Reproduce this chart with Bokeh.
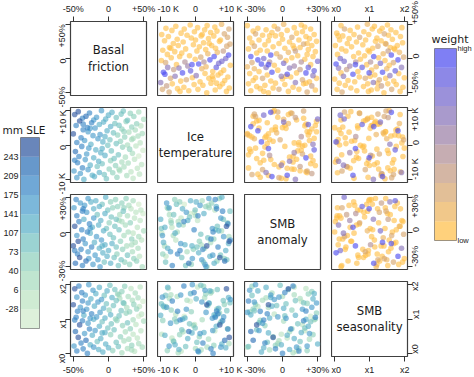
import math
from bokeh.plotting import figure
from bokeh.models import ColumnDataSource, LinearAxis, FixedTicker, Range1d
from bokeh.transform import linear_cmap
from bokeh.layouts import row, column
from bokeh.embed import file_html
from bokeh.resources import INLINE
from bokeh.core.properties import value

# ---------------- data ----------------
friction = [-50,-49,-48,-47,-46,-45,-45,-44,-43,-42,
            -41,-40,-39,-38,-37,-37,-36,-35,-34,-33,
            -32,-31,-30,-29,-29,-28,-27,-26,-25,-24,
            -23,-22,-21,-21,-20,-19,-18,-17,-16,-15,
            -14,-13,-13,-12,-11,-10,-9,-8,-7,-6,
            -5,-5,-4,-3,-2,-1,0,1,2,3,
            3,4,5,6,7,8,9,10,11,11,
            12,13,14,15,16,17,18,19,19,20,
            21,22,23,24,25,26,27,27,28,29,
            30,31,32,33,34,35,35,36,37,38,
            39,40,41,42,43,43,44,45,46,47,
            48,49,50,-48,-26,15,33,-36,-9,22]
temperature = [3.2,-7.5,8.8,-1.9,5.6,-9.4,0.7,-5.1,9.6,-3.3,
               6.9,-8.2,2.1,-0.4,7.7,-6.6,4.4,-9.9,1.3,-4.2,
               8.3,-2.6,5.0,-7.1,3.8,-0.9,9.2,-5.8,0.2,6.4,
               -8.7,2.7,-3.7,7.2,-9.1,4.9,-1.4,8.0,-6.2,1.8,
               -4.7,5.9,-7.9,3.0,-2.2,9.9,-5.4,0.9,6.6,-8.5,
               2.4,-3.0,7.5,-9.7,4.1,-0.1,8.6,-6.9,1.5,-4.5,
               5.3,-1.7,9.4,-8.0,3.5,-3.9,6.2,-5.9,0.4,7.9,
               -9.3,2.9,-2.8,5.7,-7.4,1.1,8.9,-4.9,4.6,-0.6,
               9.8,-6.3,2.3,-3.5,6.8,-8.8,0.0,7.1,-5.2,3.7,
               -1.2,9.1,-7.7,5.2,-2.4,1.9,-9.6,8.2,-4.1,4.3,
               -0.3,6.1,-6.7,2.6,-3.2,9.5,-8.4,0.6,5.5,-5.6,
               3.3,-1.5,7.4,-4.4,4.8,-7.0,1.6,6.0,-1.0,3.9]
smb_anomaly = [-12,21,5,-27,28,-3,14,-19,-8,9,
               -22,25,-15,2,18,-29,-6,11,23,-10,
               -25,17,0,-17,29,-23,7,-1,26,-13,
               4,-28,20,12,-9,-20,27,-4,15,-24,
               6,22,-14,-30,10,-7,24,-18,1,-26,
               16,-11,30,3,-21,19,-16,8,-2,26,
               -27,13,-10,21,-5,-22,5,28,-13,11,
               -19,22,-29,2,15,-8,-24,9,25,-15,
               18,-3,-26,6,29,-12,14,-20,0,23,
               -28,8,20,-6,-17,27,-1,-23,12,-9,
               17,-25,4,-14,24,-4,-21,10,19,-7,
               -30,16,1,-16,3,10,-11,20,-12,21]
seasonality = [1.41,0.22,1.87,0.64,1.05,1.63,0.08,1.22,0.47,1.95,
               0.83,1.34,0.31,1.76,0.95,1.52,0.14,1.11,0.58,1.69,
               0.39,1.28,0.01,0.88,1.46,1.99,0.71,0.26,1.58,1.15,
               0.53,1.83,0.99,0.19,1.37,0.67,1.73,1.06,0.35,1.49,
               0.12,0.79,1.91,1.19,0.44,1.56,0.92,0.05,1.31,1.68,
               0.61,1.03,0.28,1.44,1.81,0.74,0.17,1.26,1.97,0.55,
               1.12,0.86,1.62,0.09,1.39,0.69,1.85,1.00,0.33,1.53,
               0.96,1.72,0.21,1.09,1.59,0.49,1.24,0.03,1.79,0.81,
               1.47,0.37,1.94,0.63,1.17,1.33,0.15,0.89,1.65,0.42,
               1.21,0.72,1.88,0.24,1.54,0.98,0.56,1.42,0.07,1.75,
               0.84,1.29,0.45,1.61,1.08,0.29,1.36,1.92,0.66,1.14,
               0.19,1.51,0.94,0.97,1.02,1.70,0.11,1.23,0.60,1.45]
sle_mm = [248,171,262,214,202,171,193,192,271,176,
          244,147,202,181,195,178,197,139,165,165,
          212,150,182,151,159,173,185,139,140,181,
          120,174,122,162,120,170,119,165,106,153,
          112,134,112,154,111,158,88,131,136,102,
          109,108,115,74,130,91,137,71,102,63,
          127,78,125,49,99,83,97,42,85,95,
          55,68,78,84,32,71,103,37,58,63,
          74,33,72,32,49,22,32,75,22,34,
          47,56,-7,48,28,13,-7,61,-2,36,
          3,47,-14,24,-40,38,-11,-3,5,-17,
          23,-55,13,201,171,39,39,186,124,52]
weight = [0,0.25,0,0,0,0.3,0,0,0,0,
          0,0.33,0,0,0,0,0,0.66,0.02,0.02,
          0,0.24,0,0.21,0.07,0,0,0.66,0.61,0,
          0.91,0,0.96,0.04,0.91,0.01,0.88,0.02,0.37,0.16,
          0.61,0.85,0.61,0.14,0.57,0.08,0.03,0.94,0.78,0.24,
          0.49,0.44,0.74,0,0.96,0.05,0.74,0,0.24,0,
          1.0,0,1.0,0,0.16,0.01,0.12,0,0.01,0.35,
          0,0,0,0.01,0,0,0.27,0,0,0,
          0.3,0,0,0,0,0,0,0,0,0,
          0,0.3,0,0,0,0,0,0.2,0,0,
          0,0,0,0,0,0.25,0,0,0,0,
          0,0,0.15,0,0.01,0,0,0,0.99,0]

var_names = ["Basal\nfriction", "Ice\ntemperature", "SMB\nanomaly", "SMB\nseasonality"]
var_ticks = [[-50, 0, 50], [-10, 0, 10], [-30, 0, 30], [0, 1, 2]]
var_tick_labels = [["-50%", "0", "+50%"], ["-10 K", "0", "+10 K"],
                   ["-30%", "0", "+30%"], ["x0", "x1", "x2"]]
sle_breaks = [-62, -28, 6, 40, 73, 107, 141, 175, 209, 243, 277]
sle_tick_labels = ["-28", "6", "40", "73", "107", "141", "175", "209", "243"]
weight_breaks = [0, 0.1, 0.2, 0.3, 0.4, 0.5, 0.6, 0.7, 0.8, 0.9, 1.0]
weight_tick_labels = ["low", "high"]

# ---------------- styles ----------------
SLE_PAL = ["#CEEACA", "#BAE2C0", "#A4DABC", "#8BCEBA", "#70C0BF",
           "#56AEC6", "#449ACA", "#3383C4", "#276CB5", "#2A529C"]
W_PAL = ["#FFBE45", "#EBB158", "#D6A46B", "#C2977E", "#AE8A91",
         "#997CA4", "#856FB7", "#7162CA", "#5C55DD", "#4848F0"]
PT_ALPHA = 0.62
BAR_ALPHA = 0.7
PT_SIZE = 5.6
TICK_FONT = "Liberation Sans"
LABEL_FONT = "DejaVu Sans"

cols = [friction, temperature, smb_anomaly, seasonality]
N = len(friction)
ranges = []
for t in var_ticks:
    span = t[-1] - t[0]
    ranges.append((t[0] - 0.04 * span, t[-1] + 0.04 * span))

base = {"v%d" % i: cols[i] for i in range(4)}
base["sle"] = sle_mm
base["weight"] = weight


def sorted_source(key):
    order = sorted(range(N), key=lambda i: key[i])
    return ColumnDataSource({k: [v[i] for i in order] for k, v in base.items()})


src_w = sorted_source(weight)
src_s = sorted_source(sle_mm)

w_cmap = linear_cmap("weight", W_PAL, weight_breaks[0], weight_breaks[-1])
s_cmap = linear_cmap("sle", SLE_PAL, sle_breaks[0], sle_breaks[-1])


def make_axis(i, vertical):
    ax = LinearAxis(
        ticker=FixedTicker(ticks=var_ticks[i]),
        major_label_overrides={t: l for t, l in zip(var_ticks[i], var_tick_labels[i])},
        axis_line_color=None,
        major_tick_out=5, major_tick_in=0,
        minor_tick_out=0, minor_tick_in=0,
        major_tick_line_color="#333333",
        major_label_text_font=TICK_FONT,
        major_label_text_font_size="9px",
        major_label_text_color="#222222",
        major_label_standoff=3,
    )
    if vertical:
        ax.major_label_orientation = math.pi / 2
    return ax


FRAME_W, FRAME_H = 76, 75
grid_rows = []
for r in range(4):
    figs = []
    for c in range(4):
        bl = 22 if c == 0 else 0
        br = 23 if c == 3 else 11
        bt = 20 if r == 0 else 0
        bb = 21 if r == 3 else 12
        p = figure(width=FRAME_W + bl + br, height=FRAME_H + bt + bb,
                   x_range=Range1d(*ranges[c]), y_range=Range1d(*ranges[r]),
                   toolbar_location=None, output_backend="svg",
                   x_axis_location=None, y_axis_location=None,
                   min_border=0, min_border_left=bl, min_border_right=br,
                   min_border_top=bt, min_border_bottom=bb)
        p.xgrid.visible = False
        p.ygrid.visible = False
        p.outline_line_color = "#404040"
        p.outline_line_width = 1.2
        p.background_fill_color = "white"
        p.border_fill_color = "white"
        if r == c:
            p.text(x=[sum(ranges[c]) / 2], y=[sum(ranges[r]) / 2], text=[var_names[r]],
                   text_align="center", text_baseline="middle",
                   text_font=value(LABEL_FONT), text_font_size="11.7px",
                   text_color="#1a1a1a", text_line_height=1.2)
        elif c > r:
            p.scatter(x="v%d" % c, y="v%d" % r, source=src_w, size=PT_SIZE,
                      fill_color=w_cmap, fill_alpha=PT_ALPHA, line_color=None)
        else:
            p.scatter(x="v%d" % c, y="v%d" % r, source=src_s, size=PT_SIZE,
                      fill_color=s_cmap, fill_alpha=PT_ALPHA, line_color=None)
        if r == 0:
            p.add_layout(make_axis(c, False), "above")
        if r == 3:
            p.add_layout(make_axis(c, False), "below")
        if c == 0:
            p.add_layout(make_axis(r, True), "left")
        if c == 3:
            p.add_layout(make_axis(r, True), "right")
        figs.append(p)
    grid_rows.append(row(*figs))
grid = column(*grid_rows)

# ---------------- left colour bar (mm SLE) ----------------
cb1 = figure(width=48, height=377, x_range=Range1d(0, 1),
             y_range=Range1d(sle_breaks[0], sle_breaks[-1]),
             toolbar_location=None, output_backend="svg",
             x_axis_location=None, y_axis_location=None, title="mm SLE",
             min_border=0, min_border_left=16, min_border_right=9,
             min_border_top=137, min_border_bottom=49)
cb1.quad(left=0, right=1, bottom=sle_breaks[:-1], top=sle_breaks[1:],
         fill_color=SLE_PAL, fill_alpha=BAR_ALPHA, line_color=None)
ax1 = LinearAxis(ticker=FixedTicker(ticks=sle_breaks[1:-1]),
                 major_label_overrides={t: l for t, l in zip(sle_breaks[1:-1], sle_tick_labels)},
                 axis_line_color=None, major_tick_out=0, major_tick_in=0,
                 minor_tick_out=0, minor_tick_in=0,
                 major_label_text_font=TICK_FONT, major_label_text_font_size="9px",
                 major_label_text_color="#222222", major_label_standoff=2)
cb1.add_layout(ax1, "left")
cb1.xgrid.visible = False
cb1.ygrid.visible = False
cb1.outline_line_color = "#8a8a8a"
cb1.title.text_font = LABEL_FONT
cb1.title.text_font_size = "10.5px"
cb1.title.text_font_style = "normal"
cb1.title.text_color = "#1a1a1a"
cb1.title.align = "left"
cb1.title.offset = -18
cb1.title.standoff = 4

# ---------------- right colour bar (weight) ----------------
cb2 = figure(width=44, height=377, x_range=Range1d(0, 1),
             y_range=Range1d(weight_breaks[0], weight_breaks[-1]),
             toolbar_location=None, output_backend="svg",
             x_axis_location=None, y_axis_location=None, title="weight",
             min_border=0, min_border_left=4, min_border_right=16,
             min_border_top=48, min_border_bottom=137)
cb2.quad(left=0, right=1, bottom=weight_breaks[:-1], top=weight_breaks[1:],
         fill_color=W_PAL, fill_alpha=BAR_ALPHA, line_color=None)
ax2 = LinearAxis(ticker=FixedTicker(ticks=[weight_breaks[0], weight_breaks[-1]]),
                 major_label_overrides={weight_breaks[0]: weight_tick_labels[0],
                                        weight_breaks[-1]: weight_tick_labels[1]},
                 axis_line_color=None, major_tick_out=0, major_tick_in=0,
                 minor_tick_out=0, minor_tick_in=0,
                 major_label_text_font=TICK_FONT, major_label_text_font_size="7.5px",
                 major_label_text_color="#222222", major_label_standoff=1)
cb2.add_layout(ax2, "right")
cb2.xgrid.visible = False
cb2.ygrid.visible = False
cb2.outline_line_color = "#8a8a8a"
cb2.title.text_font = LABEL_FONT
cb2.title.text_font_size = "11px"
cb2.title.text_font_style = "normal"
cb2.title.text_color = "#1a1a1a"
cb2.title.align = "left"
cb2.title.offset = -3
cb2.title.standoff = 5

layout = row(column(cb1), grid, column(cb2))
open("out.html", "w").write(file_html(layout, INLINE))
